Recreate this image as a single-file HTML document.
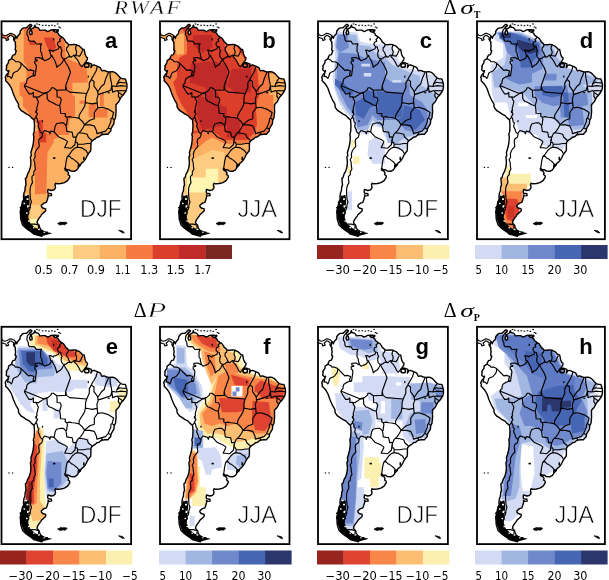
<!DOCTYPE html>
<html><head><meta charset="utf-8"><title>Figure</title>
<style>
html,body{margin:0;padding:0;background:#fff;}
body{width:609px;height:580px;overflow:hidden;position:relative;font-family:"Liberation Sans",sans-serif;}
svg{position:absolute;left:0;top:0;}
text{font-family:"Liberation Sans",sans-serif;fill:#000;}
.ser{font-family:"Liberation Serif",serif;}
.lab{font-size:22px;font-weight:bold;}
.sea{font-size:23px;stroke:#fff;stroke-width:0.6px;paint-order:fill stroke;}
.cb{font-family:"DejaVu Sans","Liberation Sans",sans-serif;font-size:11.6px;}
</style></head><body>
<svg width="609" height="580" viewBox="0 0 609 580">
<defs>
<clipPath id="land"><path d="M14.1 14.8 L15.2 16.2 L15.4 17.1 L15.8 15.3 L16.9 13.9 L18.4 12.5 L18.8 9.7 L20.7 7.4 L22.4 6.6 L24.7 6.6 L25.8 5.8 L27.6 3.8 L29.0 3.0 L30.4 4.1 L29.8 5.1 L28.3 5.7 L28.4 7.2 L29.2 7.7 L29.0 8.8 L28.0 11.3 L28.8 13.4 L30.6 12.8 L30.5 10.6 L29.6 8.3 L30.0 7.6 L31.3 6.9 L32.7 6.1 L32.8 5.5 L33.4 3.8 L33.9 5.4 L34.5 6.0 L36.5 6.3 L37.8 7.8 L38.2 9.1 L41.2 8.8 L43.6 8.8 L46.2 10.3 L48.3 9.4 L49.6 8.6 L52.2 8.4 L54.6 8.4 L53.0 9.1 L51.9 9.4 L53.3 10.6 L55.3 10.9 L56.9 12.2 L57.4 13.7 L59.5 15.3 L60.1 15.9 L61.9 16.8 L63.5 19.0 L64.2 20.6 L66.1 22.1 L67.1 23.2 L70.0 23.5 L72.4 23.1 L75.2 23.5 L75.5 23.8 L78.1 24.9 L79.7 26.4 L81.3 28.1 L82.6 28.1 L83.1 30.2 L83.6 33.0 L84.7 35.4 L86.0 36.4 L85.8 38.2 L84.7 40.1 L83.4 41.6 L84.9 41.2 L87.0 41.5 L89.9 42.6 L89.8 44.7 L89.4 46.3 L90.7 44.0 L92.5 43.5 L96.2 45.0 L98.8 46.3 L99.8 48.5 L100.5 49.5 L102.7 49.1 L105.3 50.2 L107.2 50.6 L110.6 50.5 L112.1 50.6 L114.5 51.9 L115.8 53.1 L117.6 55.3 L119.2 56.8 L121.0 57.4 L123.7 57.6 L124.3 58.7 L124.7 60.2 L125.2 61.8 L125.5 63.8 L125.4 66.6 L124.7 69.2 L123.1 71.7 L121.3 74.2 L119.7 75.7 L118.7 77.6 L117.1 80.7 L115.8 81.9 L114.5 83.5 L114.5 87.5 L114.6 90.9 L114.2 94.0 L114.0 96.5 L112.7 99.0 L112.4 102.4 L111.1 104.6 L109.8 106.7 L109.3 108.6 L109.3 109.8 L106.9 112.3 L106.6 112.9 L103.5 112.9 L99.6 113.6 L97.7 115.4 L95.4 116.0 L93.6 117.6 L91.2 119.1 L89.6 121.0 L89.4 122.9 L89.4 125.3 L89.4 127.2 L89.1 129.7 L87.5 131.5 L85.7 134.3 L84.9 136.2 L83.4 138.7 L81.5 140.8 L80.2 141.5 L78.9 143.9 L76.8 146.3 L76.3 147.3 L75.0 148.9 L72.8 150.0 L69.5 149.8 L67.1 148.4 L65.2 148.4 L63.7 146.9 L63.3 147.3 L63.8 148.9 L66.1 150.1 L67.1 151.7 L66.5 153.2 L68.2 154.5 L68.2 156.0 L66.1 159.4 L62.9 161.3 L59.5 162.2 L55.6 162.5 L54.0 161.9 L53.5 163.5 L54.0 165.9 L53.5 167.5 L52.2 168.7 L49.6 169.2 L46.5 168.1 L46.2 170.3 L46.5 171.8 L49.9 172.5 L50.1 174.3 L46.7 174.6 L46.5 175.9 L45.7 178.7 L44.9 181.1 L42.5 181.8 L39.9 183.9 L39.9 185.2 L41.2 186.7 L44.2 187.6 L44.1 189.7 L39.9 193.5 L39.4 194.5 L37.6 196.9 L36.0 199.4 L35.5 201.6 L37.6 203.9 L38.1 205.9 L39.4 208.4 L42.5 210.6 L45.9 211.0 L45.1 212.1 L41.2 212.9 L40.4 214.9 L36.0 213.7 L32.1 212.8 L29.4 210.3 L26.8 208.7 L24.2 206.6 L21.1 203.8 L20.3 201.3 L19.2 197.6 L19.0 193.5 L18.7 190.4 L19.5 187.3 L18.7 186.4 L21.6 183.9 L22.1 181.1 L22.4 178.0 L21.9 175.9 L22.5 171.5 L23.4 169.7 L23.7 165.6 L24.5 163.8 L24.1 159.4 L23.9 157.0 L25.0 156.3 L26.0 152.9 L27.6 150.1 L28.9 145.8 L29.2 143.9 L29.4 140.8 L28.9 135.6 L29.8 134.3 L29.4 131.2 L30.7 126.9 L31.1 125.5 L31.8 122.2 L32.1 119.1 L32.3 114.9 L31.8 113.2 L32.7 110.1 L33.0 104.3 L32.6 99.0 L32.3 98.5 L29.8 96.3 L28.1 94.3 L24.7 92.5 L21.9 90.6 L19.8 89.4 L17.4 86.3 L16.9 84.7 L17.1 83.2 L15.6 80.4 L14.7 79.0 L13.5 76.4 L11.9 72.6 L10.9 69.8 L9.8 66.7 L8.2 64.0 L7.3 62.7 L5.0 60.2 L4.2 59.6 L4.3 57.4 L3.7 56.1 L4.8 53.7 L6.0 52.3 L6.7 51.9 L7.5 49.4 L6.4 50.0 L4.7 48.5 L5.2 45.4 L4.8 44.9 L6.0 42.9 L6.9 41.6 L7.1 39.2 L8.1 38.6 L10.1 37.3 L10.3 36.1 L11.4 33.9 L13.5 33.3 L14.8 29.5 L13.7 28.6 L14.1 24.6 L13.7 22.4 L14.0 20.9 L12.7 19.3Z"/><path d="M12.7 19.3 L11.9 18.1 L12.2 15.9 L10.1 14.4 L8.5 13.9 L7.5 15.3 L6.1 16.1 L7.2 18.4 L4.8 19.3 L4.6 17.5 L2.7 16.8 L1.4 16.2 L-0.4 16.7 L-1.2 15.6 L-1.2 10.9 L0.4 12.2 L1.4 13.7 L3.3 14.4 L5.1 14.0 L7.5 12.6 L8.5 11.9 L10.1 12.3 L12.4 13.1 L14.1 14.8Z"/></clipPath>
<path id="coast" d="M14.1 14.8 L15.2 16.2 L15.4 17.1 L15.8 15.3 L16.9 13.9 L18.4 12.5 L18.8 9.7 L20.7 7.4 L22.4 6.6 L24.7 6.6 L25.8 5.8 L27.6 3.8 L29.0 3.0 L30.4 4.1 L29.8 5.1 L28.3 5.7 L28.4 7.2 L29.2 7.7 L29.0 8.8 L28.0 11.3 L28.8 13.4 L30.6 12.8 L30.5 10.6 L29.6 8.3 L30.0 7.6 L31.3 6.9 L32.7 6.1 L32.8 5.5 L33.4 3.8 L33.9 5.4 L34.5 6.0 L36.5 6.3 L37.8 7.8 L38.2 9.1 L41.2 8.8 L43.6 8.8 L46.2 10.3 L48.3 9.4 L49.6 8.6 L52.2 8.4 L54.6 8.4 L53.0 9.1 L51.9 9.4 L53.3 10.6 L55.3 10.9 L56.9 12.2 L57.4 13.7 L59.5 15.3 L60.1 15.9 L61.9 16.8 L63.5 19.0 L64.2 20.6 L66.1 22.1 L67.1 23.2 L70.0 23.5 L72.4 23.1 L75.2 23.5 L75.5 23.8 L78.1 24.9 L79.7 26.4 L81.3 28.1 L82.6 28.1 L83.1 30.2 L83.6 33.0 L84.7 35.4 L86.0 36.4 L85.8 38.2 L84.7 40.1 L83.4 41.6 L84.9 41.2 L87.0 41.5 L89.9 42.6 L89.8 44.7 L89.4 46.3 L90.7 44.0 L92.5 43.5 L96.2 45.0 L98.8 46.3 L99.8 48.5 L100.5 49.5 L102.7 49.1 L105.3 50.2 L107.2 50.6 L110.6 50.5 L112.1 50.6 L114.5 51.9 L115.8 53.1 L117.6 55.3 L119.2 56.8 L121.0 57.4 L123.7 57.6 L124.3 58.7 L124.7 60.2 L125.2 61.8 L125.5 63.8 L125.4 66.6 L124.7 69.2 L123.1 71.7 L121.3 74.2 L119.7 75.7 L118.7 77.6 L117.1 80.7 L115.8 81.9 L114.5 83.5 L114.5 87.5 L114.6 90.9 L114.2 94.0 L114.0 96.5 L112.7 99.0 L112.4 102.4 L111.1 104.6 L109.8 106.7 L109.3 108.6 L109.3 109.8 L106.9 112.3 L106.6 112.9 L103.5 112.9 L99.6 113.6 L97.7 115.4 L95.4 116.0 L93.6 117.6 L91.2 119.1 L89.6 121.0 L89.4 122.9 L89.4 125.3 L89.4 127.2 L89.1 129.7 L87.5 131.5 L85.7 134.3 L84.9 136.2 L83.4 138.7 L81.5 140.8 L80.2 141.5 L78.9 143.9 L76.8 146.3 L76.3 147.3 L75.0 148.9 L72.8 150.0 L69.5 149.8 L67.1 148.4 L65.2 148.4 L63.7 146.9 L63.3 147.3 L63.8 148.9 L66.1 150.1 L67.1 151.7 L66.5 153.2 L68.2 154.5 L68.2 156.0 L66.1 159.4 L62.9 161.3 L59.5 162.2 L55.6 162.5 L54.0 161.9 L53.5 163.5 L54.0 165.9 L53.5 167.5 L52.2 168.7 L49.6 169.2 L46.5 168.1 L46.2 170.3 L46.5 171.8 L49.9 172.5 L50.1 174.3 L46.7 174.6 L46.5 175.9 L45.7 178.7 L44.9 181.1 L42.5 181.8 L39.9 183.9 L39.9 185.2 L41.2 186.7 L44.2 187.6 L44.1 189.7 L39.9 193.5 L39.4 194.5 L37.6 196.9 L36.0 199.4 L35.5 201.6 L37.6 203.9 L38.1 205.9 L39.4 208.4 L42.5 210.6 L45.9 211.0 L45.1 212.1 L41.2 212.9 L40.4 214.9 L36.0 213.7 L32.1 212.8 L29.4 210.3 L26.8 208.7 L24.2 206.6 L21.1 203.8 L20.3 201.3 L19.2 197.6 L19.0 193.5 L18.7 190.4 L19.5 187.3 L18.7 186.4 L21.6 183.9 L22.1 181.1 L22.4 178.0 L21.9 175.9 L22.5 171.5 L23.4 169.7 L23.7 165.6 L24.5 163.8 L24.1 159.4 L23.9 157.0 L25.0 156.3 L26.0 152.9 L27.6 150.1 L28.9 145.8 L29.2 143.9 L29.4 140.8 L28.9 135.6 L29.8 134.3 L29.4 131.2 L30.7 126.9 L31.1 125.5 L31.8 122.2 L32.1 119.1 L32.3 114.9 L31.8 113.2 L32.7 110.1 L33.0 104.3 L32.6 99.0 L32.3 98.5 L29.8 96.3 L28.1 94.3 L24.7 92.5 L21.9 90.6 L19.8 89.4 L17.4 86.3 L16.9 84.7 L17.1 83.2 L15.6 80.4 L14.7 79.0 L13.5 76.4 L11.9 72.6 L10.9 69.8 L9.8 66.7 L8.2 64.0 L7.3 62.7 L5.0 60.2 L4.2 59.6 L4.3 57.4 L3.7 56.1 L4.8 53.7 L6.0 52.3 L6.7 51.9 L7.5 49.4 L6.4 50.0 L4.7 48.5 L5.2 45.4 L4.8 44.9 L6.0 42.9 L6.9 41.6 L7.1 39.2 L8.1 38.6 L10.1 37.3 L10.3 36.1 L11.4 33.9 L13.5 33.3 L14.8 29.5 L13.7 28.6 L14.1 24.6 L13.7 22.4 L14.0 20.9 L12.7 19.3Z"/>
<path id="panama" d="M12.7 19.3 L11.9 18.1 L12.2 15.9 L10.1 14.4 L8.5 13.9 L7.5 15.3 L6.1 16.1 L7.2 18.4 L4.8 19.3 L4.6 17.5 L2.7 16.8 L1.4 16.2 L-0.4 16.7 L-1.2 15.6 L-1.2 10.9 L0.4 12.2 L1.4 13.7 L3.3 14.4 L5.1 14.0 L7.5 12.6 L8.5 11.9 L10.1 12.3 L12.4 13.1 L14.1 14.8Z"/>
<path id="bord" d="M29.9 4.9 L27.5 7.1 L25.8 9.4 L25.5 11.3 L25.5 13.1 L26.8 15.6 L27.0 18.5 L28.1 19.9 L30.7 19.8 L33.1 20.1 L34.8 22.7 L40.0 22.4 L39.0 25.2 L39.1 27.7 L39.0 30.2 L40.2 31.7 L40.4 34.2 L41.6 37.9 M41.6 37.9 L41.0 37.9 L38.1 36.2 L33.8 36.4 L33.8 38.3 L35.5 38.5 L35.7 39.6 L33.2 39.9 L33.2 42.1 L34.4 43.2 L34.9 45.0 L33.5 54.7 M33.5 54.7 L31.5 53.4 L32.6 49.7 L29.4 48.6 L26.8 49.1 L25.0 47.2 L22.1 44.4 L19.6 41.9 M19.6 41.9 L18.7 41.3 L16.9 40.4 L14.0 40.4 L13.2 39.2 L11.1 37.9 L10.2 37.3 M19.6 41.9 L19.5 44.6 L18.8 46.4 L16.1 49.7 L13.0 50.9 L11.6 52.2 L10.6 55.9 L9.8 57.1 L8.5 55.6 L6.9 55.0 L6.0 55.3 L6.4 53.7 L6.7 52.2 M33.5 54.7 L31.3 54.7 L28.7 55.6 L25.9 57.4 L25.0 60.2 L25.1 61.8 L23.7 63.0 L22.9 64.9 L25.5 69.5 L27.6 72.6 L30.2 72.6 L31.8 71.1 L31.9 75.7 L34.5 75.6 M34.5 75.6 L36.9 80.4 L36.0 84.1 L35.1 87.5 L35.6 88.9 L34.4 90.0 L35.5 91.9 L36.0 92.8 L34.4 95.3 L34.8 95.9 M34.8 95.9 L33.9 96.5 L32.3 98.5 M34.8 95.9 L35.7 97.7 L36.1 100.5 L37.4 101.9 L36.6 105.0 L38.1 108.3 L38.9 110.8 L40.7 112.4 M40.7 112.4 L42.0 110.5 L43.0 109.2 L45.9 110.1 L47.5 110.5 L48.3 112.5 L49.2 109.8 L52.6 110.6 M52.6 110.6 L53.6 105.3 L55.0 102.5 L59.5 101.5 L61.9 101.6 L64.4 104.1 M64.4 104.1 L65.2 103.5 L65.4 100.7 L65.9 98.1 L65.4 96.0 L63.7 95.0 L63.9 92.2 L59.1 92.0 L58.9 88.4 L58.2 84.4 L54.8 83.5 L52.2 81.9 L49.3 80.4 L48.0 80.2 L46.5 78.5 L45.7 77.3 L45.7 75.3 L45.4 71.7 L42.3 72.3 L40.4 73.6 L38.6 74.6 L37.0 76.0 L34.5 75.6 M40.7 112.4 L41.2 112.9 L40.3 116.0 L37.8 117.6 L37.2 120.1 L37.6 123.2 L37.8 125.3 L35.7 127.5 L34.3 129.7 L33.4 132.5 L33.6 135.9 L32.1 138.4 L33.1 140.8 L33.4 144.9 L33.9 147.7 L32.3 150.8 L32.3 153.5 L30.5 155.1 L30.5 158.2 L31.0 161.3 L29.4 164.1 L28.7 166.9 L28.5 171.2 L28.8 174.9 L29.0 178.0 L30.0 180.5 L29.2 182.7 L28.8 184.9 L28.4 187.6 L27.1 189.8 L27.3 192.3 L25.3 194.2 L24.5 197.6 L27.1 198.8 L27.3 201.3 L28.4 202.8 L33.4 202.8 L37.4 203.9 M37.0 204.8 L37.0 211.8 M52.6 110.6 L56.9 115.4 L60.8 117.3 L64.0 118.8 L65.8 120.1 L65.6 121.3 L64.2 124.1 L63.2 126.3 L66.1 126.4 L69.0 126.9 L70.3 126.4 L71.6 125.0 L73.4 123.5 L73.7 121.0 M73.7 121.0 L74.5 116.3 L73.7 115.6 L71.6 115.9 L70.9 111.7 L70.4 110.8 L68.2 110.6 L65.3 110.1 L64.9 106.7 L64.4 104.1 M73.7 121.0 L75.6 121.1 L76.2 123.0 L75.9 125.8 L73.1 127.0 L70.7 129.2 L68.2 132.8 L65.8 135.3 M65.8 135.3 L65.2 137.7 L64.5 140.8 L64.2 143.9 L63.7 146.7 M65.8 135.3 L67.9 134.9 L70.0 137.1 L71.1 137.3 L73.7 139.3 L75.8 141.0 L77.3 143.0 L76.5 144.6 L76.8 146.3 M41.6 37.9 L43.0 39.3 L44.9 38.7 L46.5 38.1 L48.5 37.0 L49.1 35.6 L50.6 34.8 L50.6 34.0 L49.1 33.9 L48.5 30.5 L47.5 28.9 L49.1 28.8 L51.7 30.3 L52.3 29.1 L54.0 28.9 L55.6 28.0 L56.9 27.7 L57.6 25.5 M57.6 25.5 L55.9 23.2 L56.5 20.9 L58.8 19.9 L58.0 18.2 L59.5 16.7 L60.1 15.9 M57.6 25.5 L59.3 25.5 L59.6 27.7 L60.6 29.5 L59.9 30.5 L59.7 33.6 L60.2 35.7 L61.6 37.4 L63.5 37.6 L64.8 37.0 L66.6 35.6 L68.7 35.6 M68.7 35.6 L67.4 33.6 L66.6 31.2 L65.0 29.2 L65.2 26.4 L66.6 25.2 L67.1 23.3 M68.7 35.6 L70.0 35.9 L70.3 35.3 L72.6 33.7 L73.7 34.4 M73.7 34.4 L74.7 33.0 L75.2 30.5 L74.1 27.7 L74.2 25.8 L75.2 23.7 M73.7 34.4 L75.8 34.5 L78.1 34.8 L79.0 33.6 L80.5 30.2 L81.4 28.9 M62.4 37.9 L64.0 41.0 L66.9 45.7 L68.0 48.5 L69.0 50.9 L64.2 64.4 M64.2 64.4 L64.0 68.6 L55.3 68.9 L51.9 66.4 L50.1 66.4 L49.1 68.6 L46.5 70.8 L41.7 72.0 M41.7 72.0 L23.4 64.4 M50.6 34.8 L51.9 37.0 L53.3 39.5 L54.6 42.9 L55.3 46.0 L57.4 44.1 L58.8 43.5 L60.8 41.0 L62.4 37.9 M73.7 34.4 L72.9 35.4 L75.2 37.6 L77.1 40.4 L78.9 44.1 L80.5 45.4 L81.8 43.5 L83.4 41.6 M95.9 45.0 L94.6 49.7 L92.2 54.0 L89.9 57.8 M89.9 58.1 L87.8 61.8 L87.8 66.4 L85.2 72.2 M85.2 72.2 L68.2 70.8 L65.0 68.6 L64.2 64.4 M55.3 68.9 L55.6 72.6 L55.6 75.7 L58.5 76.0 L59.8 78.5 L59.3 80.4 L58.2 84.4 M85.2 72.2 L84.1 75.7 L83.9 81.3 L83.1 85.0 L81.3 88.1 L79.4 90.9 L77.6 94.3 L77.6 97.1 M77.6 97.1 L73.9 96.2 L70.8 95.9 L67.9 95.3 L65.4 96.0 M77.6 97.1 L80.7 99.9 L83.1 103.3 L81.5 106.4 L79.2 109.8 L76.0 112.9 L74.7 116.2 M83.9 81.3 L87.5 81.9 L90.9 82.6 L95.4 81.6 M89.9 58.1 L92.5 60.2 L92.5 64.9 L94.9 68.0 L96.2 70.5 L96.7 73.6 L95.4 77.6 L95.7 81.6 M107.2 50.6 L104.3 57.1 L102.7 62.7 L100.1 64.9 L96.4 70.2 L96.4 73.3 M108.5 50.6 L108.7 55.6 L110.0 62.1 L110.3 64.6 M121.3 74.2 L117.1 71.1 L115.8 69.2 L111.1 70.8 L110.3 64.6 L109.3 68.9 L104.0 70.8 L96.4 73.3 M110.3 64.6 L115.0 65.2 L119.2 64.3 L125.0 64.9 M119.1 56.7 L117.1 59.6 L115.5 62.7 L115.0 65.2 M115.5 62.7 L118.4 60.9 L121.0 61.5 L125.0 61.6 M116.6 69.5 L119.7 69.2 L122.3 69.5 L124.4 69.2 M117.1 71.4 L116.8 74.8 L118.4 77.3 M95.7 81.6 L96.2 86.6 L100.9 86.0 L106.6 87.8 L110.6 90.3 L112.1 91.2 L110.6 96.8 L112.7 98.4 M96.2 86.6 L92.8 91.2 L92.8 97.4 L88.3 99.0 L83.1 103.3 M83.1 103.3 L88.3 103.6 L92.8 104.6 L94.9 109.2 L95.4 112.3 L99.6 111.1 L100.9 112.6 L99.6 113.9 M99.6 111.1 L104.0 109.8 L106.6 106.7 L109.3 107.7 M106.6 106.7 L108.0 103.6 L109.3 100.5 L109.5 97.4 L110.6 96.8 M77.6 111.4 L81.8 112.0 L85.7 112.9 L86.8 116.0 L89.4 118.2 L90.9 119.8 M76.0 123.0 L81.8 122.9 L85.7 122.2 L89.4 122.2 M75.9 125.8 L80.5 126.6 L84.4 129.1 L86.5 132.5"/>
<path id="isl" d="M54.6 10.5 L56.9 10.3 L57.1 8.2 L55.1 8.5Z M56.1 202.2 L59.5 200.7 L61.4 201.3 L60.6 203.5 L58.0 203.5Z M61.4 201.0 L64.8 201.0 L65.6 201.9 L63.2 203.5 L60.8 202.8Z M117.1 209.0 L121.0 209.7 L122.9 211.5 L121.0 211.5Z"/>

<g id="ov"><path fill="#000" d="M23.6 173.5 L27.6 174 L28.2 180.2 L27.2 188 L26.8 196.5 L28.8 202.3 L34.5 206.9 L40.1 208.8 L45.7 211 L50.1 211.6 L50.1 212.3 L40.7 214.8 L33.2 212.9 L27 209.2 L22 204 L19.3 196.5 L18.9 187.7 L20.2 180.2 L22.6 176Z"/>
<rect x="23.5" y="173.0" width="2.2" height="1.4" fill="#fff"/>
<rect x="25.0" y="177.0" width="2.0" height="1.6" fill="#fff"/>
<rect x="22.0" y="181.5" width="1.6" height="1.4" fill="#fff"/>
<rect x="25.5" y="184.0" width="1.8" height="2.2" fill="#fff"/>
<rect x="24.5" y="191.0" width="1.6" height="1.4" fill="#fff"/>
<rect x="26.5" y="199.0" width="1.8" height="1.4" fill="#fff"/>
<rect x="31.5" y="205.8" width="1.6" height="1.2" fill="#fff"/>
<rect x="36.5" y="207.6" width="1.8" height="1.2" fill="#fff"/>
<rect x="42.0" y="210.5" width="1.6" height="1.0" fill="#fff"/>
<rect x="34.7" y="2.1" width="1.6" height="1.1" fill="#000"/>
<rect x="37.0" y="2.8" width="1.6" height="1.1" fill="#000"/>
<rect x="40.3" y="3.5" width="1.6" height="1.1" fill="#000"/>
<rect x="43.5" y="3.4" width="1.6" height="1.1" fill="#000"/>
<rect x="46.6" y="3.8" width="1.6" height="1.1" fill="#000"/>
<rect x="49.7" y="3.4" width="1.6" height="1.1" fill="#000"/>
<rect x="52.5" y="4.0" width="1.6" height="1.1" fill="#000"/>
<rect x="55.3" y="2.1" width="1.6" height="1.1" fill="#000"/>
<rect x="56.7" y="5.2" width="1.6" height="1.1" fill="#000"/>
<rect x="58.0" y="6.0" width="1.6" height="1.1" fill="#000"/>
<rect x="51.6" y="17.0" width="1.2" height="2.2" fill="#000"/>
<rect x="33.9" y="89.4" width="1.6" height="2.4" fill="#000"/>
<rect x="51.5" y="136.0" width="2.4" height="1.6" fill="#000"/>
<rect x="40.4" y="99.0" width="1.2" height="1.8" fill="#000"/>
<rect x="86.2" y="54.3" width="1.2" height="2.0" fill="#000"/>
<rect x="106.2" y="70.8" width="2.0" height="1.2" fill="#000"/>
<rect x="73.6" y="117.8" width="1.2" height="2.0" fill="#000"/>
<rect x="27.0" y="185.5" width="2.2" height="1.2" fill="#000"/>
<rect x="76.8" y="142.5" width="2.6" height="2.2" fill="#000"/>
<rect x="81.5" y="135.5" width="1.6" height="3.2" fill="#000"/>
<rect x="45.9" y="173.0" width="1.6" height="1.4" fill="#000"/>
<ellipse cx="85.2" cy="44.1" rx="2.3" ry="1.9" fill="none" stroke="#000" stroke-width="1.5"/>
<rect x="6.8" y="145.6" width="1.3" height="1.1" fill="#000"/><rect x="10.4" y="145.6" width="1.3" height="1.1" fill="#000"/></g>
<clipPath id="cp0"><rect x="0" y="0" width="129.6" height="217.9"/></clipPath>
<clipPath id="cp1"><rect x="0" y="0" width="129.5" height="217.9"/></clipPath>
<clipPath id="cp2"><rect x="0" y="0" width="129.9" height="217.9"/></clipPath>
<clipPath id="cp3"><rect x="0" y="0" width="127.9" height="217.9"/></clipPath>
<clipPath id="cp4"><rect x="0" y="0" width="129.6" height="217.3"/></clipPath>
<clipPath id="cp5"><rect x="0" y="0" width="129.5" height="217.3"/></clipPath>
<clipPath id="cp6"><rect x="0" y="0" width="129.9" height="217.3"/></clipPath>
<clipPath id="cp7"><rect x="0" y="0" width="127.9" height="217.3"/></clipPath>
</defs>
<g transform="translate(1.50 21.30)">
<g clip-path="url(#cp0)">
<g clip-path="url(#land)">
<path fill="#f47a42" d="M-5.0 -5.0 L140.0 -5.0 L140.0 230.0 L-5.0 230.0Z"/>
<path fill="#fcb262" d="M22.2 6.2 L22.2 41.2 L24.8 43.7 L24.8 60.0 L18.0 61.2 L18.0 73.7 L21.5 76.2 L21.5 85.0 L26.0 90.0 L29.8 96.2 L36.0 103.7 L36.0 110.0 L23.5 110.0 L1.0 66.2 L1.0 33.7 L13.5 6.2Z"/>
<path fill="#fcb262" d="M62.2 13.7 L64.0 26.2 L64.0 36.2 L71.0 40.0 L84.8 45.0 L86.5 61.2 L71.0 61.7 L71.0 73.7 L73.5 75.0 L73.5 96.2 L68.5 97.5 L66.0 108.7 L68.5 116.2 L52.2 117.5 L52.2 128.7 L46.0 138.7 L46.0 148.7 L138.5 148.7 L138.5 13.7Z"/>
<path fill="#f47a42" d="M87.2 82.5 L94.8 82.5 L94.8 87.5 L106.0 87.5 L106.0 96.2 L87.2 96.2Z"/>
<path fill="#f47a42" d="M98.5 71.2 L102.2 71.2 L102.2 85.0 L98.5 85.0Z"/>
<path fill="#f47a42" d="M78.0 79.2 L84.8 79.2 L84.8 82.5 L78.0 82.5Z"/>
<path fill="#dc3e2c" d="M42.2 16.2 L52.2 16.2 L54.8 26.2 L48.5 31.2 L44.8 23.7Z"/>
<path fill="#dc3e2c" d="M28.0 19.9 L33.5 19.9 L33.5 23.7 L28.0 23.7Z"/>
<path fill="#dc3e2c" d="M36.0 98.7 L41.0 98.7 L41.5 111.2 L44.8 112.5 L44.8 121.2 L38.5 121.2 L37.2 111.2Z"/>
<path fill="#fcb262" d="M57.2 113.7 L52.2 121.2 L46.0 131.2 L44.8 172.4 L23.5 173.7 L23.5 238.7 L98.5 238.7 L98.5 113.7Z"/>
<path fill="#fcb262" d="M29.8 126.2 L33.5 126.2 L33.5 173.7 L23.5 173.7Z"/>
<path fill="#fdcc80" d="M28.5 183.7 L39.8 183.7 L39.8 198.7 L28.5 198.7Z"/>
<path fill="#fdf5b0" d="M28.5 197.4 L36.0 197.4 L36.0 206.2 L28.5 206.2Z"/>
</g>
<use href="#bord" fill="none" stroke="#000" stroke-width="1.15" stroke-linejoin="round"/>
<use href="#coast" fill="none" stroke="#000" stroke-width="1.4" stroke-linejoin="round"/>
<use href="#panama" fill="none" stroke="#000" stroke-width="1.1" stroke-linejoin="round"/>
<use href="#isl" fill="#000" stroke="#000" stroke-width="0.8"/>
<use href="#ov"/>
</g>
<rect x="0" y="0" width="129.60" height="217.90" fill="none" stroke="#000" stroke-width="1.8"/>
<text class="lab" x="103.5" y="27.2">a</text>
<text class="sea" x="78.6" y="195.8" textLength="41.5" lengthAdjust="spacingAndGlyphs">DJF</text>
</g>
<g transform="translate(160.00 21.30)">
<g clip-path="url(#cp1)">
<g clip-path="url(#land)">
<path fill="#dc3e2c" d="M-5.0 -5.0 L140.0 -5.0 L140.0 230.0 L-5.0 230.0Z"/>
<path fill="#c02a28" d="M33.2 13.7 L52.0 13.7 L52.5 26.2 L42.0 31.2 L33.2 23.7Z"/>
<path fill="#c02a28" d="M30.8 42.5 L49.5 40.0 L67.0 42.5 L67.0 66.2 L52.0 68.2 L29.5 61.2Z"/>
<path fill="#c02a28" d="M72.0 47.5 L90.8 47.5 L90.8 71.2 L74.5 71.2 L67.0 64.2Z"/>
<path fill="#c02a28" d="M45.8 66.2 L58.2 71.2 L59.0 85.0 L45.8 82.5Z"/>
<path fill="#c02a28" d="M38.2 73.7 L67.0 86.2 L67.0 103.7 L42.0 108.7 L37.0 93.7Z"/>
<path fill="#c02a28" d="M67.0 95.0 L79.5 98.7 L80.8 113.7 L67.0 116.2Z"/>
<path fill="#f47a42" d="M20.8 6.2 L27.0 13.7 L27.0 32.5 L19.5 36.2 L17.0 43.7 L17.0 56.2 L13.2 61.2 L17.0 73.7 L22.0 83.7 L29.5 95.0 L35.8 101.2 L38.2 108.7 L29.5 111.2 L-3.0 63.7 L-3.0 33.7 L12.0 6.2Z"/>
<path fill="#fcb262" d="M17.0 12.4 L24.0 12.4 L24.0 32.5 L17.0 33.7 L14.5 23.7Z"/>
<path fill="#fcb262" d="M-0.5 8.7 L15.0 8.7 L15.0 20.7 L-0.5 20.7Z"/>
<path fill="#f47a42" d="M63.2 18.7 L74.5 21.2 L79.5 29.9 L84.0 36.2 L85.8 45.7 L79.5 43.7 L74.5 36.2 L67.0 31.2Z"/>
<path fill="#f47a42" d="M94.5 45.0 L97.5 48.7 L99.5 73.7 L95.8 83.7 L97.0 103.7 L92.0 116.2 L87.0 128.7 L142.0 128.7 L142.0 45.0Z"/>
<path fill="#fcb262" d="M109.5 52.5 L127.0 52.5 L127.0 73.7 L122.0 73.7 L122.0 103.7 L113.2 103.7 L113.2 73.7 L109.5 73.7Z"/>
<path fill="#f47a42" d="M29.5 113.7 L42.0 110.0 L53.2 110.0 L64.5 118.7 L87.0 118.7 L92.0 113.7 L99.5 113.7 L99.5 238.7 L17.0 238.7 L17.0 113.7Z"/>
<path fill="#fcb262" d="M29.5 128.7 L38.2 126.2 L45.8 120.0 L52.0 116.2 L64.5 122.5 L82.0 122.5 L97.0 121.2 L97.0 238.7 L17.0 238.7 L17.0 128.7Z"/>
<path fill="#fdcc80" d="M29.5 138.7 L42.0 133.7 L52.0 128.7 L64.5 131.2 L64.5 152.4 L77.0 152.4 L77.0 238.7 L17.0 238.7 L17.0 138.7Z"/>
<path fill="#fdf5b0" d="M45.8 147.4 L58.2 147.4 L58.2 161.2 L52.0 162.4 L52.0 171.2 L27.0 171.2 L27.0 149.9 L32.0 149.9 L32.0 156.2 L45.8 156.2Z"/>
</g>
<use href="#bord" fill="none" stroke="#000" stroke-width="1.15" stroke-linejoin="round"/>
<use href="#coast" fill="none" stroke="#000" stroke-width="1.4" stroke-linejoin="round"/>
<use href="#panama" fill="none" stroke="#000" stroke-width="1.1" stroke-linejoin="round"/>
<use href="#isl" fill="#000" stroke="#000" stroke-width="0.8"/>
<use href="#ov"/>
</g>
<rect x="0" y="0" width="129.50" height="217.90" fill="none" stroke="#000" stroke-width="1.8"/>
<text class="lab" x="102.2" y="27.2">b</text>
<text class="sea" x="77.6" y="195.8" textLength="39.5" lengthAdjust="spacingAndGlyphs">JJA</text>
</g>
<g transform="translate(318.00 21.30)">
<g clip-path="url(#cp2)">
<g clip-path="url(#land)">
<path fill="#d2daf4" d="M18.2 9.9 L39.5 11.2 L42.0 19.9 L52.0 22.4 L62.0 22.4 L74.5 26.2 L78.2 33.7 L84.5 46.2 L97.0 48.7 L109.5 52.5 L128.2 57.5 L128.2 73.7 L117.0 86.2 L114.5 98.7 L110.8 108.7 L99.5 116.2 L92.0 121.2 L87.0 128.7 L79.5 128.7 L74.5 121.2 L67.0 116.2 L63.2 106.2 L52.0 103.7 L50.8 113.7 L37.0 111.2 L35.8 98.7 L27.0 91.2 L20.8 81.2 L15.8 66.2 L14.5 56.2 L17.0 38.7 L15.8 23.7Z"/>
<path fill="#a2b6e2" d="M19.5 12.4 L38.2 13.7 L40.8 23.7 L52.0 24.9 L57.0 31.2 L67.0 36.2 L74.5 43.7 L92.0 51.2 L102.0 55.0 L102.0 63.7 L112.0 68.7 L117.0 73.7 L114.5 98.7 L109.5 108.7 L97.0 113.7 L87.0 116.2 L77.0 123.7 L69.5 121.2 L67.0 108.7 L54.5 98.7 L49.5 108.7 L39.5 108.7 L37.0 98.7 L28.2 88.7 L22.0 78.7 L17.0 66.2 L17.0 43.7 L19.5 33.7 L17.0 23.7Z"/>
<path fill="#7088cc" d="M20.8 31.2 L38.2 32.5 L45.8 36.2 L67.0 41.2 L67.0 56.2 L74.5 61.2 L90.8 61.2 L92.0 73.7 L104.5 81.2 L109.5 88.7 L109.5 106.2 L97.0 111.2 L87.0 108.7 L79.5 98.7 L67.0 98.7 L59.5 98.7 L54.5 93.7 L49.5 103.7 L39.5 106.2 L37.0 93.7 L29.5 86.2 L23.2 73.7 L18.2 61.2 L19.5 43.7Z"/>
<path fill="#7088cc" d="M19.5 13.7 L29.5 12.4 L30.8 26.2 L22.0 31.2 L18.2 26.2Z"/>
<path fill="#4666b4" d="M58.2 70.0 L84.5 71.2 L84.5 96.2 L60.8 95.0Z"/>
<path fill="#4666b4" d="M85.8 83.7 L94.5 86.2 L102.0 88.7 L107.0 98.7 L97.0 108.7 L87.0 103.7 L79.5 97.5 L84.5 96.2Z"/>
<path fill="#4666b4" d="M48.2 68.7 L58.2 71.2 L58.2 83.7 L52.0 86.2 L45.8 97.5 L38.2 93.7 L37.0 81.2 L45.8 76.2Z"/>
<path fill="#4666b4" d="M17.0 57.5 L24.5 61.2 L35.8 71.2 L33.2 73.7 L22.0 68.7 L17.0 63.7Z"/>
<path fill="#d2daf4" d="M43.2 42.5 L52.0 42.5 L52.0 45.2 L43.2 45.2Z"/>
<path fill="#d2daf4" d="M45.8 51.7 L53.2 51.7 L53.2 55.2 L45.8 55.2Z"/>
<path fill="#d2daf4" d="M74.5 58.7 L83.2 58.7 L83.2 61.2 L74.5 61.2Z"/>
<path fill="#d2daf4" d="M50.8 120.0 L57.0 116.2 L67.0 122.5 L67.0 142.4 L54.5 142.4 L49.5 133.7Z"/>
<path fill="#d2daf4" d="M29.5 169.9 L34.0 169.9 L34.0 188.7 L29.5 188.7Z"/>
<path fill="#fcf0b0" d="M33.2 118.7 L36.5 118.7 L36.5 126.2 L33.2 126.2Z"/>
<path fill="#fcf0b0" d="M35.0 134.9 L41.5 134.9 L41.5 142.4 L35.0 142.4Z"/>
<path fill="#fcf0b0" d="M29.5 144.9 L33.2 144.9 L33.2 152.4 L29.5 152.4Z"/>
</g>
<use href="#bord" fill="none" stroke="#000" stroke-width="1.15" stroke-linejoin="round"/>
<use href="#coast" fill="none" stroke="#000" stroke-width="1.4" stroke-linejoin="round"/>
<use href="#panama" fill="none" stroke="#000" stroke-width="1.1" stroke-linejoin="round"/>
<use href="#isl" fill="#000" stroke="#000" stroke-width="0.8"/>
<use href="#ov"/>
</g>
<rect x="0" y="0" width="129.90" height="217.90" fill="none" stroke="#000" stroke-width="1.8"/>
<text class="lab" x="101.8" y="27.2">c</text>
<text class="sea" x="78.6" y="195.8" textLength="41.5" lengthAdjust="spacingAndGlyphs">DJF</text>
</g>
<g transform="translate(477.00 21.30)">
<g clip-path="url(#cp3)">
<g clip-path="url(#land)">
<path fill="#d2daf4" d="M17.5 9.9 L42.5 9.9 L62.5 18.7 L76.2 23.7 L85.0 36.2 L91.2 46.2 L105.0 48.7 L127.5 57.5 L127.5 73.7 L116.2 86.2 L115.0 98.7 L110.0 108.7 L100.0 113.7 L90.0 121.2 L85.0 128.7 L75.0 126.2 L65.0 123.7 L60.0 113.7 L42.5 111.2 L40.0 103.7 L33.8 96.2 L30.0 81.2 L17.5 81.2 L15.0 71.2 L13.8 43.7 L26.2 36.2 L26.2 22.4 L17.5 18.7Z"/>
<path fill="#a2b6e2" d="M18.8 11.2 L42.5 11.2 L62.5 19.9 L75.0 24.9 L80.0 36.2 L90.0 47.5 L105.0 51.2 L120.0 57.5 L120.0 61.2 L105.0 63.7 L115.0 71.2 L115.0 86.2 L110.0 106.2 L97.5 108.7 L90.0 103.7 L80.0 101.2 L75.0 96.2 L65.0 95.0 L55.0 81.2 L45.0 71.2 L30.0 66.2 L17.5 66.2 L15.0 51.2 L27.5 43.7 L30.0 31.2 L27.5 21.2Z"/>
<path fill="#7088cc" d="M20.0 11.2 L42.5 12.4 L62.5 21.2 L66.2 33.7 L65.5 47.5 L55.0 52.5 L55.0 61.2 L42.5 63.2 L33.8 60.0 L27.5 56.2 L33.8 51.2 L36.2 36.2 L30.0 31.2 L27.5 22.4Z"/>
<path fill="#7088cc" d="M57.5 65.0 L90.0 64.2 L91.2 71.2 L110.0 72.5 L111.2 83.7 L105.0 85.0 L107.5 103.7 L92.5 105.0 L90.0 95.0 L83.8 96.7 L83.0 83.7 L76.2 85.0 L65.0 81.2 L57.5 73.7Z"/>
<path fill="#7088cc" d="M67.5 52.5 L79.5 52.5 L79.5 59.2 L67.5 59.2Z"/>
<path fill="#4666b4" d="M22.5 11.2 L35.0 11.2 L62.5 22.4 L62.5 32.5 L55.0 41.2 L55.0 46.2 L43.8 46.2 L42.5 33.7 L40.0 26.2 L30.0 19.9 L22.5 17.4Z"/>
<path fill="#4666b4" d="M65.0 65.0 L85.0 65.0 L87.5 73.7 L75.0 76.2 L65.0 73.7Z"/>
<path fill="#4666b4" d="M86.2 71.2 L91.2 71.2 L92.5 96.2 L87.5 96.2Z"/>
<path fill="#2a366c" d="M23.8 11.7 L33.8 11.7 L33.8 16.7 L23.8 16.7Z"/>
<path fill="#2a366c" d="M40.0 18.2 L60.0 23.7 L60.0 30.7 L52.5 32.5 L45.0 29.9 L40.0 23.7Z"/>
<path fill="#ffffff" d="M41.2 81.2 L51.2 81.2 L51.2 85.0 L41.2 85.0Z"/>
<path fill="#ffffff" d="M48.8 93.7 L60.0 93.7 L60.0 96.7 L48.8 96.7Z"/>
<path fill="#fcf0b0" d="M28.8 144.9 L33.8 144.9 L33.8 152.4 L53.8 152.4 L53.8 164.9 L25.0 164.9 L25.0 156.2 L28.8 154.9Z"/>
<path fill="#fcbe72" d="M25.0 156.2 L31.2 156.2 L31.2 162.4 L50.0 162.4 L50.0 172.4 L23.8 172.4Z"/>
<path fill="#f88648" d="M25.0 169.9 L45.5 169.9 L45.5 184.9 L42.5 184.9 L42.5 198.7 L40.0 206.2 L30.0 211.2 L22.5 188.7Z"/>
<path fill="#de4230" d="M28.8 177.4 L40.0 177.4 L42.5 184.9 L41.2 196.2 L36.2 199.9 L30.0 198.7 L27.5 188.7Z"/>
<path fill="#cc3424" d="M31.2 184.9 L37.0 184.9 L37.0 196.2 L31.2 196.2Z"/>
</g>
<use href="#bord" fill="none" stroke="#000" stroke-width="1.15" stroke-linejoin="round"/>
<use href="#coast" fill="none" stroke="#000" stroke-width="1.4" stroke-linejoin="round"/>
<use href="#panama" fill="none" stroke="#000" stroke-width="1.1" stroke-linejoin="round"/>
<use href="#isl" fill="#000" stroke="#000" stroke-width="0.8"/>
<use href="#ov"/>
</g>
<rect x="0" y="0" width="127.90" height="217.90" fill="none" stroke="#000" stroke-width="1.8"/>
<text class="lab" x="102.8" y="27.2">d</text>
<text class="sea" x="77.6" y="195.8" textLength="39.5" lengthAdjust="spacingAndGlyphs">JJA</text>
</g>
<g transform="translate(1.50 326.80)">
<g clip-path="url(#cp4)">
<g clip-path="url(#land)">
<path fill="#d2daf4" d="M17.2 19.2 L38.5 20.4 L56.0 36.7 L68.5 42.9 L68.5 52.9 L86.0 52.9 L86.0 61.7 L73.5 61.7 L68.5 65.4 L48.5 64.7 L36.0 66.7 L31.0 74.2 L23.5 81.7 L17.2 74.2 L6.0 56.7 L6.0 39.2 L13.5 36.7Z"/>
<path fill="#d2daf4" d="M13.5 56.7 L26.0 59.2 L26.0 74.2 L31.0 81.7 L33.5 86.7 L26.0 84.2 L18.5 76.7Z"/>
<path fill="#d2daf4" d="M92.2 46.7 L116.0 49.2 L116.0 59.2 L108.5 60.4 L98.5 59.2 L93.5 57.9Z"/>
<path fill="#d2daf4" d="M41.0 72.9 L46.0 72.9 L46.0 84.2 L41.0 84.2Z"/>
<path fill="#d2daf4" d="M52.2 81.7 L58.5 81.7 L58.5 91.7 L52.2 91.7Z"/>
<path fill="#a2b6e2" d="M16.0 21.2 L39.8 21.7 L52.2 34.2 L54.8 42.9 L52.2 49.2 L36.0 50.4 L34.8 56.7 L23.5 55.4 L16.0 44.2 L13.5 36.7Z"/>
<path fill="#7088cc" d="M17.2 22.9 L41.0 22.9 L49.8 34.2 L51.0 41.7 L36.0 42.9 L33.5 49.2 L26.0 47.9 L18.5 39.2Z"/>
<path fill="#4666b4" d="M19.8 24.2 L41.0 24.2 L46.0 31.7 L46.0 39.2 L36.0 39.2 L32.2 45.4 L27.2 44.2 L21.0 36.7Z"/>
<path fill="#2a366c" d="M24.8 25.4 L33.5 25.4 L33.5 39.2 L28.5 39.2 L24.8 34.2Z"/>
<path fill="#a2b6e2" d="M103.5 49.2 L109.8 49.2 L109.8 57.9 L103.5 57.9Z"/>
<path fill="#fcf0b0" d="M28.5 7.9 L63.5 7.9 L88.5 34.2 L86.5 44.2 L66.0 43.7 L64.0 36.7 L52.2 27.2 L36.0 21.2 L28.5 20.4Z"/>
<path fill="#fcbe72" d="M33.5 8.7 L61.0 8.7 L84.8 31.7 L84.8 39.7 L73.5 36.7 L64.0 34.2 L52.2 25.4 L38.5 19.2 L33.5 17.9Z"/>
<path fill="#f88648" d="M36.0 9.2 L61.0 9.2 L82.2 30.4 L81.0 36.2 L73.5 34.2 L64.0 30.4 L56.0 25.4 L46.0 18.7 L36.0 16.7Z"/>
<path fill="#de4230" d="M44.8 9.7 L58.5 11.7 L66.0 20.4 L73.5 25.4 L73.5 30.4 L64.8 29.7 L57.2 26.7 L52.2 24.2 L46.0 16.7Z"/>
<path fill="#c83424" d="M49.8 12.9 L57.2 14.2 L57.2 24.2 L52.2 22.9Z"/>
<path fill="#fcf0b0" d="M108.5 74.2 L117.2 74.2 L117.2 61.7 L127.2 61.7 L127.2 74.2 L116.0 85.4 L108.5 85.4Z"/>
<path fill="#d2daf4" d="M44.8 114.2 L57.2 112.9 L67.2 121.7 L76.0 111.7 L87.2 111.7 L89.8 124.2 L84.8 135.4 L77.2 147.9 L68.5 154.7 L67.2 162.2 L52.2 169.7 L44.8 169.7 L42.2 151.7 L43.5 134.2Z"/>
<path fill="#a2b6e2" d="M44.8 126.7 L61.0 124.2 L66.0 134.2 L66.0 151.7 L61.0 159.2 L52.2 165.4 L46.0 164.2 L43.5 146.7Z"/>
<path fill="#7088cc" d="M46.0 134.2 L59.8 135.4 L59.8 156.7 L52.2 164.2 L46.0 161.7 L44.8 146.7Z"/>
<path fill="#4666b4" d="M47.2 151.7 L52.2 151.7 L52.2 160.4 L47.2 160.4Z"/>
<path fill="#fcf0b0" d="M36.0 99.2 L41.5 101.7 L43.5 114.2 L42.5 139.2 L43.5 171.7 L46.0 181.7 L44.8 194.2 L36.0 201.7 L28.5 201.7 L23.5 164.2 L33.5 114.2Z"/>
<path fill="#fcbe72" d="M35.5 101.7 L40.0 104.2 L40.0 126.7 L38.5 151.7 L38.5 174.2 L44.8 182.9 L44.8 192.9 L31.0 194.2 L23.5 164.2 L32.2 114.2Z"/>
<path fill="#f88648" d="M34.8 104.2 L38.0 106.7 L38.0 126.7 L36.0 154.2 L35.0 176.7 L28.5 179.2 L23.5 159.2 L32.2 114.2Z"/>
<path fill="#de4230" d="M33.0 116.7 L35.5 118.7 L35.5 139.2 L32.5 164.2 L32.5 176.7 L23.5 176.7 L26.0 151.7 L30.5 126.7Z"/>
<path fill="#982420" d="M27.2 154.7 L30.5 154.7 L30.5 176.7 L23.5 176.7Z"/>
</g>
<use href="#bord" fill="none" stroke="#000" stroke-width="1.15" stroke-linejoin="round"/>
<use href="#coast" fill="none" stroke="#000" stroke-width="1.4" stroke-linejoin="round"/>
<use href="#panama" fill="none" stroke="#000" stroke-width="1.1" stroke-linejoin="round"/>
<use href="#isl" fill="#000" stroke="#000" stroke-width="0.8"/>
<use href="#ov"/>
</g>
<rect x="0" y="0" width="129.60" height="217.30" fill="none" stroke="#000" stroke-width="1.8"/>
<text class="lab" x="104.2" y="27.2">e</text>
<text class="sea" x="78.6" y="195.8" textLength="41.5" lengthAdjust="spacingAndGlyphs">DJF</text>
</g>
<g transform="translate(160.00 326.80)">
<g clip-path="url(#cp5)">
<g clip-path="url(#land)">
<path fill="#fcf0b0" d="M24.5 6.7 L59.5 9.2 L67.0 21.7 L78.2 24.2 L85.8 44.2 L97.0 47.9 L109.5 50.4 L128.2 57.9 L128.2 74.2 L117.0 86.7 L114.5 99.2 L109.5 109.2 L99.5 116.7 L92.0 121.7 L87.0 124.2 L74.5 121.7 L64.5 116.7 L57.0 111.7 L45.8 110.4 L38.2 104.2 L37.0 86.7 L43.2 74.2 L49.5 69.2 L50.8 56.7 L55.8 46.7 L49.5 36.7 L42.0 26.7 L29.5 16.7Z"/>
<path fill="#fcbe72" d="M27.0 7.2 L58.2 9.7 L64.5 22.9 L74.5 26.7 L77.0 36.7 L84.5 45.4 L97.0 49.2 L109.5 51.7 L127.0 59.2 L127.0 74.2 L117.0 85.4 L113.2 99.2 L108.2 107.9 L99.5 112.9 L92.0 111.7 L87.0 114.2 L74.5 115.4 L67.0 109.2 L57.0 106.7 L47.0 106.7 L40.8 99.2 L39.5 86.7 L49.5 74.2 L53.2 59.2 L58.2 46.7 L52.0 36.7 L45.8 26.7 L32.0 16.7Z"/>
<path fill="#f88648" d="M29.5 7.9 L57.0 10.4 L60.8 22.9 L54.5 29.2 L45.8 22.9 L34.5 15.4Z"/>
<path fill="#f88648" d="M58.2 49.2 L67.0 44.2 L74.5 46.7 L84.5 49.2 L97.0 51.7 L109.5 52.9 L125.8 60.4 L125.8 74.2 L115.8 85.4 L112.0 99.2 L104.5 106.7 L94.5 106.7 L87.0 104.2 L77.0 96.7 L67.0 99.2 L59.5 96.7 L52.0 99.2 L44.5 96.7 L42.0 86.7 L52.0 76.7 L55.8 61.7Z"/>
<path fill="#f88648" d="M64.5 36.7 L77.0 36.7 L78.2 46.7 L67.0 46.7Z"/>
<path fill="#fcbe72" d="M40.8 22.9 L56.5 26.2 L58.5 47.9 L51.5 57.9 L45.8 44.2 L42.0 31.7Z"/>
<path fill="#f88648" d="M43.8 24.2 L54.5 27.7 L56.0 44.7 L51.0 50.4 L46.0 36.7Z"/>
<path fill="#de4230" d="M35.8 8.7 L55.8 11.2 L57.5 20.4 L52.0 21.7 L42.0 16.7Z"/>
<path fill="#de4230" d="M59.0 71.2 L84.0 72.2 L84.5 83.7 L77.0 85.4 L62.0 85.4Z"/>
<path fill="#de4230" d="M92.5 74.2 L109.0 75.4 L111.5 96.2 L104.5 104.2 L95.0 102.9 L92.0 89.2Z"/>
<path fill="#de4230" d="M100.8 53.7 L124.0 62.2 L122.5 72.2 L102.0 72.2 L99.0 66.7 L94.5 64.7 L95.0 59.2Z"/>
<path fill="#de4230" d="M70.8 47.9 L89.5 52.9 L88.2 59.2 L74.5 57.9Z"/>
<path fill="#ffffff" d="M71.5 59.2 L82.5 59.2 L82.5 69.7 L71.5 69.7Z"/>
<path fill="#7088cc" d="M75.8 60.4 L79.5 60.4 L79.5 64.7 L75.8 64.7Z"/>
<path fill="#7088cc" d="M72.5 64.7 L76.5 64.7 L76.5 69.2 L72.5 69.2Z"/>
<path fill="#d2daf4" d="M15.8 17.9 L25.8 19.2 L27.0 39.2 L33.2 42.9 L38.2 52.9 L42.0 59.2 L43.2 71.7 L37.0 81.7 L29.5 85.4 L24.5 74.2 L17.0 69.2 L7.0 59.2 L5.8 49.2 L8.2 41.7 L15.8 36.7Z"/>
<path fill="#a2b6e2" d="M17.0 20.4 L24.5 21.7 L24.5 36.7 L17.0 36.7Z"/>
<path fill="#a2b6e2" d="M7.0 41.7 L24.5 40.4 L32.0 46.7 L38.2 56.7 L40.8 69.2 L33.2 74.2 L32.0 81.7 L25.8 81.7 L17.0 67.9 L7.0 57.9Z"/>
<path fill="#7088cc" d="M7.0 42.9 L22.0 42.9 L29.5 49.2 L35.8 57.9 L37.0 66.7 L29.5 70.4 L23.2 71.7 L15.8 64.2 L7.0 56.7Z"/>
<path fill="#4666b4" d="M13.2 50.4 L27.0 52.9 L28.2 64.2 L22.0 70.4 L15.8 61.7Z"/>
<path fill="#a2b6e2" d="M33.2 101.7 L43.2 104.2 L43.2 121.7 L33.2 121.7Z"/>
<path fill="#4666b4" d="M34.5 110.4 L40.8 111.2 L40.8 119.2 L34.5 119.2Z"/>
<path fill="#d2daf4" d="M38.2 121.7 L55.8 120.4 L60.8 129.2 L62.0 140.4 L52.0 142.9 L50.8 147.9 L45.8 147.9 L42.0 134.2 L38.2 131.7Z"/>
<path fill="#d2daf4" d="M74.5 124.2 L89.5 121.7 L88.2 134.2 L79.5 144.2 L67.0 142.9 L67.0 134.2Z"/>
<path fill="#a2b6e2" d="M77.0 129.2 L87.0 126.7 L85.8 136.7 L79.5 140.4 L75.8 136.7Z"/>
<path fill="#fcf0b0" d="M35.8 139.2 L40.0 139.2 L40.0 160.4 L45.8 160.4 L45.8 179.2 L32.0 179.2 L32.0 160.4 L35.8 159.2Z"/>
<path fill="#fcbe72" d="M30.8 122.9 L37.5 125.4 L38.0 144.2 L39.0 154.2 L36.5 165.4 L29.5 172.9 L24.5 172.9 L26.5 151.7 L29.0 134.2Z"/>
<path fill="#f88648" d="M32.0 125.4 L36.5 127.2 L37.0 144.2 L37.8 154.2 L35.5 164.2 L29.5 171.2 L26.0 171.2 L27.5 151.7 L30.0 134.2Z"/>
<path fill="#de4230" d="M29.5 146.7 L34.5 146.7 L34.5 164.2 L29.5 166.7Z"/>
<path fill="#d2daf4" d="M29.5 189.2 L34.5 189.2 L34.5 199.2 L29.5 199.2Z"/>
</g>
<use href="#bord" fill="none" stroke="#000" stroke-width="1.15" stroke-linejoin="round"/>
<use href="#coast" fill="none" stroke="#000" stroke-width="1.4" stroke-linejoin="round"/>
<use href="#panama" fill="none" stroke="#000" stroke-width="1.1" stroke-linejoin="round"/>
<use href="#isl" fill="#000" stroke="#000" stroke-width="0.8"/>
<use href="#ov"/>
</g>
<rect x="0" y="0" width="129.50" height="217.30" fill="none" stroke="#000" stroke-width="1.8"/>
<text class="lab" x="103.2" y="27.2">f</text>
<text class="sea" x="77.6" y="195.8" textLength="39.5" lengthAdjust="spacingAndGlyphs">JJA</text>
</g>
<g transform="translate(318.00 326.80)">
<g clip-path="url(#cp6)">
<g clip-path="url(#land)">
<path fill="#d2daf4" d="M19.0 9.7 L59.5 10.7 L63.2 24.2 L79.5 26.7 L82.0 40.4 L79.5 46.7 L64.5 46.7 L62.0 31.7 L52.0 34.2 L42.0 29.2 L32.0 27.9 L22.0 21.7Z"/>
<path fill="#d2daf4" d="M35.8 55.4 L44.5 55.4 L44.5 49.2 L67.0 49.2 L92.0 50.4 L92.0 56.7 L112.0 55.4 L128.2 59.2 L128.2 79.2 L117.0 94.2 L112.0 109.2 L99.5 114.2 L92.0 116.7 L84.5 109.2 L84.5 94.2 L59.5 95.4 L57.5 74.2 L50.8 74.2 L48.2 65.4 L35.8 65.4Z"/>
<path fill="#d2daf4" d="M17.0 66.2 L29.5 67.2 L38.2 79.7 L57.5 81.7 L57.5 99.2 L52.0 109.2 L45.8 110.4 L42.0 124.2 L42.0 144.2 L29.5 144.2 L33.2 109.2 L27.0 94.2 L18.2 81.7Z"/>
<path fill="#a2b6e2" d="M29.5 11.2 L58.2 12.9 L59.5 24.2 L50.8 26.7 L42.0 22.9 L30.8 21.7Z"/>
<path fill="#a2b6e2" d="M73.2 71.7 L84.5 71.7 L84.5 92.2 L73.2 92.2Z"/>
<path fill="#a2b6e2" d="M92.0 56.7 L112.0 56.2 L127.0 60.4 L127.0 79.2 L117.0 92.9 L111.5 107.9 L99.5 111.7 L92.0 109.2 L87.0 99.2 L92.0 86.7 L102.0 84.2 L102.0 74.2 L93.2 72.9Z"/>
<path fill="#a2b6e2" d="M37.0 84.2 L50.8 82.9 L54.5 94.2 L50.8 106.7 L43.2 109.2 L42.0 124.2 L40.8 144.2 L32.0 144.2 L34.5 109.2 L35.8 94.2Z"/>
<path fill="#7088cc" d="M32.0 12.2 L54.5 13.7 L54.5 21.7 L45.8 22.9 L33.2 19.2Z"/>
<path fill="#7088cc" d="M103.2 75.4 L115.8 75.4 L115.8 86.7 L103.2 86.7Z"/>
<path fill="#7088cc" d="M96.5 92.9 L107.5 92.2 L108.0 105.4 L98.2 107.2Z"/>
<path fill="#7088cc" d="M117.0 61.7 L124.5 62.9 L124.0 70.4 L118.2 70.4Z"/>
<path fill="#7088cc" d="M35.8 94.2 L44.5 95.4 L43.2 109.2 L37.0 124.2 L33.2 124.2 L35.0 106.7Z"/>
<path fill="#fcf0b0" d="M14.0 40.4 L22.0 40.4 L22.0 49.2 L19.5 59.2 L15.8 59.2 L14.0 49.2Z"/>
<path fill="#fcf0b0" d="M44.5 36.7 L50.8 36.7 L50.8 42.2 L44.5 42.2Z"/>
<path fill="#ffffff" d="M78.2 55.4 L83.2 55.4 L83.2 58.7 L78.2 58.7Z"/>
<path fill="#ffffff" d="M62.8 74.2 L67.0 74.2 L67.0 86.7 L62.8 86.7Z"/>
<path fill="#d2daf4" d="M32.0 99.2 L44.5 104.2 L45.8 119.2 L43.2 151.7 L39.5 154.2 L39.5 160.4 L45.8 160.4 L45.8 174.2 L42.0 189.2 L40.8 204.2 L22.0 204.2 L19.5 164.2 L29.5 114.2Z"/>
<path fill="#a2b6e2" d="M32.0 104.2 L42.0 106.7 L42.0 126.7 L39.5 151.7 L38.2 171.7 L37.0 189.2 L35.8 199.2 L24.5 199.2 L20.8 164.2 L29.5 119.2Z"/>
<path fill="#7088cc" d="M32.0 109.2 L38.0 110.4 L38.8 139.2 L38.2 150.4 L37.8 171.7 L35.0 196.7 L25.8 196.7 L22.0 164.2 L29.5 126.7Z"/>
<path fill="#fcf0b0" d="M46.5 130.4 L60.8 130.4 L60.8 135.4 L63.2 135.4 L63.2 150.4 L60.8 150.4 L60.8 160.4 L52.0 160.4 L52.0 151.7 L46.5 151.7Z"/>
</g>
<use href="#bord" fill="none" stroke="#000" stroke-width="1.15" stroke-linejoin="round"/>
<use href="#coast" fill="none" stroke="#000" stroke-width="1.4" stroke-linejoin="round"/>
<use href="#panama" fill="none" stroke="#000" stroke-width="1.1" stroke-linejoin="round"/>
<use href="#isl" fill="#000" stroke="#000" stroke-width="0.8"/>
<use href="#ov"/>
</g>
<rect x="0" y="0" width="129.90" height="217.30" fill="none" stroke="#000" stroke-width="1.8"/>
<text class="lab" x="97.5" y="27.2">g</text>
<text class="sea" x="78.6" y="195.8" textLength="41.5" lengthAdjust="spacingAndGlyphs">DJF</text>
</g>
<g transform="translate(477.00 326.80)">
<g clip-path="url(#cp7)">
<g clip-path="url(#land)">
<path fill="#d2daf4" d="M30.0 99.2 L85.0 99.2 L90.0 114.2 L85.0 129.2 L80.0 141.7 L67.5 149.2 L66.2 159.2 L55.0 164.2 L48.8 171.7 L47.5 179.2 L40.0 189.2 L33.8 194.2 L25.0 194.2 L22.5 164.2 L30.0 114.2Z"/>
<path fill="#d2daf4" d="M17.5 6.7 L55.0 6.7 L80.0 26.7 L90.0 45.4 L105.0 49.2 L127.5 57.9 L127.5 79.2 L116.2 89.2 L115.0 99.2 L110.0 109.2 L100.0 114.2 L90.0 121.7 L85.0 129.2 L80.0 144.2 L30.0 144.2 L33.8 104.2 L30.0 94.2 L17.5 81.7 L13.8 69.2 L23.8 61.7 L30.0 54.2 L33.8 44.2 L27.5 36.7 L27.5 22.9 L17.5 19.2Z"/>
<path fill="#ffffff" d="M44.0 117.2 L56.2 119.7 L57.5 146.7 L53.0 164.2 L45.5 164.2 L43.8 144.2Z"/>
<path fill="#ffffff" d="M120.5 57.9 L127.5 59.2 L127.5 74.2 L121.2 74.2 L118.8 65.4Z"/>
<path fill="#a2b6e2" d="M31.2 101.7 L55.0 101.7 L55.0 114.2 L45.0 116.7 L42.5 139.2 L42.5 159.2 L38.8 171.7 L31.2 174.2 L25.0 171.7 L26.2 151.7 L31.2 119.2Z"/>
<path fill="#a2b6e2" d="M18.8 7.9 L55.0 7.9 L78.8 26.7 L88.8 46.7 L105.0 50.4 L121.2 57.9 L116.2 64.2 L110.0 71.7 L111.2 86.7 L112.5 99.2 L107.5 109.2 L97.5 112.9 L90.0 119.2 L83.8 124.2 L75.0 124.2 L65.0 116.7 L55.0 114.2 L52.5 104.2 L42.5 109.2 L40.0 144.2 L31.2 144.2 L35.0 106.7 L33.8 96.7 L20.0 81.7 L17.5 71.7 L30.0 71.7 L45.0 69.2 L40.0 49.2 L35.0 36.7 L30.0 29.2 L28.8 21.7Z"/>
<path fill="#7088cc" d="M32.5 104.2 L42.5 104.2 L42.5 116.7 L38.8 129.2 L36.2 151.7 L33.8 169.2 L26.2 169.2 L28.8 139.2 L32.0 119.2Z"/>
<path fill="#7088cc" d="M18.0 7.7 L55.0 8.7 L77.5 26.7 L87.5 46.7 L105.0 51.7 L110.0 59.2 L105.0 71.7 L110.0 84.2 L111.2 99.2 L105.0 107.9 L95.0 111.7 L87.5 116.7 L80.0 119.2 L70.0 116.7 L65.0 104.2 L55.0 99.2 L47.5 99.2 L42.5 86.7 L47.5 71.7 L55.0 66.7 L50.0 49.2 L38.8 36.7 L31.2 28.7 L22.0 21.2Z"/>
<path fill="#7088cc" d="M33.8 96.7 L42.5 99.2 L45.0 109.2 L38.8 116.7 L36.2 144.2 L31.2 144.2 L33.8 109.2Z"/>
<path fill="#5e7ac4" d="M22.5 9.2 L55.0 9.7 L76.2 26.7 L86.2 46.7 L97.5 51.7 L97.5 64.2 L105.0 74.2 L100.0 81.7 L97.5 94.2 L90.0 99.2 L80.0 99.2 L67.5 94.2 L60.0 84.2 L57.5 71.7 L67.5 64.2 L66.2 51.7 L55.0 46.7 L47.5 36.7 L38.8 29.2 L26.2 19.2Z"/>
<path fill="#4666b4" d="M61.2 64.7 L80.0 59.2 L96.2 57.9 L97.5 64.7 L104.5 74.2 L100.0 81.7 L97.0 93.7 L90.0 98.7 L80.0 98.7 L68.0 93.7 L60.5 84.2 L58.5 72.2Z"/>
<path fill="#4666b4" d="M48.0 24.2 L63.8 26.2 L65.0 36.7 L56.2 45.4 L49.5 36.7Z"/>
<path fill="#4666b4" d="M92.5 86.7 L107.5 87.9 L107.5 104.2 L95.0 106.7Z"/>
<path fill="#2a366c" d="M65.0 70.4 L85.0 70.4 L85.0 74.2 L93.8 73.7 L93.8 80.4 L85.0 81.2 L83.8 84.7 L75.0 84.7 L73.8 77.9 L70.5 77.9 L70.0 84.7 L65.0 84.7Z"/>
</g>
<use href="#bord" fill="none" stroke="#000" stroke-width="1.15" stroke-linejoin="round"/>
<use href="#coast" fill="none" stroke="#000" stroke-width="1.4" stroke-linejoin="round"/>
<use href="#panama" fill="none" stroke="#000" stroke-width="1.1" stroke-linejoin="round"/>
<use href="#isl" fill="#000" stroke="#000" stroke-width="0.8"/>
<use href="#ov"/>
</g>
<rect x="0" y="0" width="127.90" height="217.30" fill="none" stroke="#000" stroke-width="1.8"/>
<text class="lab" x="102.2" y="27.2">h</text>
<text class="sea" x="77.6" y="195.8" textLength="39.5" lengthAdjust="spacingAndGlyphs">JJA</text>
</g>
<rect x="46.60" y="245.00" width="26.79" height="14.00" fill="#fdf5b0"/><rect x="73.09" y="245.00" width="26.79" height="14.00" fill="#fdcc80"/><rect x="99.57" y="245.00" width="26.79" height="14.00" fill="#fcb262"/><rect x="126.06" y="245.00" width="26.79" height="14.00" fill="#f47a42"/><rect x="152.54" y="245.00" width="26.79" height="14.00" fill="#dc3e2c"/><rect x="179.03" y="245.00" width="26.79" height="14.00" fill="#c02a28"/><rect x="205.51" y="245.00" width="26.49" height="14.00" fill="#7c2820"/>
<text class="cb" x="34.50" y="273.70" textLength="18.50" lengthAdjust="spacingAndGlyphs">0.5</text>
<text class="cb" x="60.40" y="273.70" textLength="18.30" lengthAdjust="spacingAndGlyphs">0.7</text>
<text class="cb" x="87.00" y="273.70" textLength="18.00" lengthAdjust="spacingAndGlyphs">0.9</text>
<text class="cb" x="114.90" y="273.70" textLength="15.50" lengthAdjust="spacingAndGlyphs">1.1</text>
<text class="cb" x="140.20" y="273.70" textLength="18.00" lengthAdjust="spacingAndGlyphs">1.3</text>
<text class="cb" x="166.40" y="273.70" textLength="18.60" lengthAdjust="spacingAndGlyphs">1.5</text>
<text class="cb" x="194.30" y="273.70" textLength="17.20" lengthAdjust="spacingAndGlyphs">1.7</text>
<rect x="317.00" y="245.00" width="26.78" height="14.00" fill="#982420"/><rect x="343.48" y="245.00" width="26.78" height="14.00" fill="#de4230"/><rect x="369.96" y="245.00" width="26.78" height="14.00" fill="#f88648"/><rect x="396.44" y="245.00" width="26.78" height="14.00" fill="#fcbe72"/><rect x="422.92" y="245.00" width="26.48" height="14.00" fill="#fcf0b0"/>
<text class="cb" x="325.50" y="274.00" textLength="24.50" lengthAdjust="spacingAndGlyphs">−30</text>
<text class="cb" x="352.50" y="274.00" textLength="24.25" lengthAdjust="spacingAndGlyphs">−20</text>
<text class="cb" x="379.25" y="274.00" textLength="23.25" lengthAdjust="spacingAndGlyphs">−15</text>
<text class="cb" x="405.75" y="274.00" textLength="23.50" lengthAdjust="spacingAndGlyphs">−10</text>
<text class="cb" x="433.00" y="274.00" textLength="15.50" lengthAdjust="spacingAndGlyphs">−5</text>
<rect x="317.00" y="550.50" width="26.78" height="14.00" fill="#982420"/><rect x="343.48" y="550.50" width="26.78" height="14.00" fill="#de4230"/><rect x="369.96" y="550.50" width="26.78" height="14.00" fill="#f88648"/><rect x="396.44" y="550.50" width="26.78" height="14.00" fill="#fcbe72"/><rect x="422.92" y="550.50" width="26.48" height="14.00" fill="#fcf0b0"/>
<text class="cb" x="325.50" y="579.60" textLength="24.50" lengthAdjust="spacingAndGlyphs">−30</text>
<text class="cb" x="352.50" y="579.60" textLength="24.25" lengthAdjust="spacingAndGlyphs">−20</text>
<text class="cb" x="379.25" y="579.60" textLength="23.25" lengthAdjust="spacingAndGlyphs">−15</text>
<text class="cb" x="405.75" y="579.60" textLength="23.50" lengthAdjust="spacingAndGlyphs">−10</text>
<text class="cb" x="433.00" y="579.60" textLength="15.50" lengthAdjust="spacingAndGlyphs">−5</text>
<rect x="0.00" y="550.50" width="26.78" height="14.00" fill="#982420"/><rect x="26.48" y="550.50" width="26.78" height="14.00" fill="#de4230"/><rect x="52.96" y="550.50" width="26.78" height="14.00" fill="#f88648"/><rect x="79.44" y="550.50" width="26.78" height="14.00" fill="#fcbe72"/><rect x="105.92" y="550.50" width="26.48" height="14.00" fill="#fcf0b0"/>
<text class="cb" x="8.50" y="579.60" textLength="24.50" lengthAdjust="spacingAndGlyphs">−30</text>
<text class="cb" x="35.50" y="579.60" textLength="24.25" lengthAdjust="spacingAndGlyphs">−20</text>
<text class="cb" x="62.25" y="579.60" textLength="23.25" lengthAdjust="spacingAndGlyphs">−15</text>
<text class="cb" x="88.75" y="579.60" textLength="23.50" lengthAdjust="spacingAndGlyphs">−10</text>
<text class="cb" x="122.30" y="579.60" textLength="15.50" lengthAdjust="spacingAndGlyphs">−5</text>
<rect x="475.00" y="245.00" width="26.82" height="14.00" fill="#d2daf4"/><rect x="501.52" y="245.00" width="26.82" height="14.00" fill="#a2b6e2"/><rect x="528.04" y="245.00" width="26.82" height="14.00" fill="#7088cc"/><rect x="554.56" y="245.00" width="26.82" height="14.00" fill="#4666b4"/><rect x="581.08" y="245.00" width="26.52" height="14.00" fill="#2a366c"/>
<text class="cb" x="475.50" y="274.00" textLength="6.50" lengthAdjust="spacingAndGlyphs">5</text>
<text class="cb" x="495.00" y="274.00" textLength="13.25" lengthAdjust="spacingAndGlyphs">10</text>
<text class="cb" x="521.50" y="274.00" textLength="13.00" lengthAdjust="spacingAndGlyphs">15</text>
<text class="cb" x="547.50" y="274.00" textLength="14.00" lengthAdjust="spacingAndGlyphs">20</text>
<text class="cb" x="573.25" y="274.00" textLength="14.25" lengthAdjust="spacingAndGlyphs">30</text>
<rect x="159.00" y="550.50" width="26.82" height="14.00" fill="#d2daf4"/><rect x="185.52" y="550.50" width="26.82" height="14.00" fill="#a2b6e2"/><rect x="212.04" y="550.50" width="26.82" height="14.00" fill="#7088cc"/><rect x="238.56" y="550.50" width="26.82" height="14.00" fill="#4666b4"/><rect x="265.08" y="550.50" width="26.52" height="14.00" fill="#2a366c"/>
<text class="cb" x="159.50" y="579.60" textLength="6.50" lengthAdjust="spacingAndGlyphs">5</text>
<text class="cb" x="179.00" y="579.60" textLength="13.25" lengthAdjust="spacingAndGlyphs">10</text>
<text class="cb" x="205.50" y="579.60" textLength="13.00" lengthAdjust="spacingAndGlyphs">15</text>
<text class="cb" x="231.50" y="579.60" textLength="14.00" lengthAdjust="spacingAndGlyphs">20</text>
<text class="cb" x="257.25" y="579.60" textLength="14.25" lengthAdjust="spacingAndGlyphs">30</text>
<rect x="475.00" y="550.50" width="26.82" height="14.00" fill="#d2daf4"/><rect x="501.52" y="550.50" width="26.82" height="14.00" fill="#a2b6e2"/><rect x="528.04" y="550.50" width="26.82" height="14.00" fill="#7088cc"/><rect x="554.56" y="550.50" width="26.82" height="14.00" fill="#4666b4"/><rect x="581.08" y="550.50" width="26.52" height="14.00" fill="#2a366c"/>
<text class="cb" x="475.50" y="579.60" textLength="6.50" lengthAdjust="spacingAndGlyphs">5</text>
<text class="cb" x="495.00" y="579.60" textLength="13.25" lengthAdjust="spacingAndGlyphs">10</text>
<text class="cb" x="521.50" y="579.60" textLength="13.00" lengthAdjust="spacingAndGlyphs">15</text>
<text class="cb" x="547.50" y="579.60" textLength="14.00" lengthAdjust="spacingAndGlyphs">20</text>
<text class="cb" x="573.25" y="579.60" textLength="14.25" lengthAdjust="spacingAndGlyphs">30</text>
<text class="ser" x="114" y="14" font-size="19" font-style="italic" letter-spacing="2.2" textLength="69" lengthAdjust="spacingAndGlyphs" stroke="#fff" stroke-width="0.3" paint-order="fill stroke">RWAF</text>
<text class="ser" x="443.8" y="14.4" font-size="20">Δ</text>
<text class="ser" x="460.2" y="14.4" font-size="19" font-style="italic" textLength="13.5" lengthAdjust="spacingAndGlyphs">σ</text>
<text class="ser" x="473.8" y="18.0" font-size="10" font-weight="bold">T</text>
<text class="ser" x="443.8" y="317.2" font-size="20">Δ</text>
<text class="ser" x="460.2" y="317.2" font-size="19" font-style="italic" textLength="13.5" lengthAdjust="spacingAndGlyphs">σ</text>
<text class="ser" x="473.8" y="320.8" font-size="10" font-weight="bold">P</text>
<text class="ser" x="133.8" y="317.2" font-size="20">Δ</text>
<text class="ser" x="147.2" y="317.2" font-size="20" font-style="italic" textLength="19" lengthAdjust="spacingAndGlyphs" stroke="#fff" stroke-width="0.5" paint-order="fill stroke">P</text>
</svg></body></html>
